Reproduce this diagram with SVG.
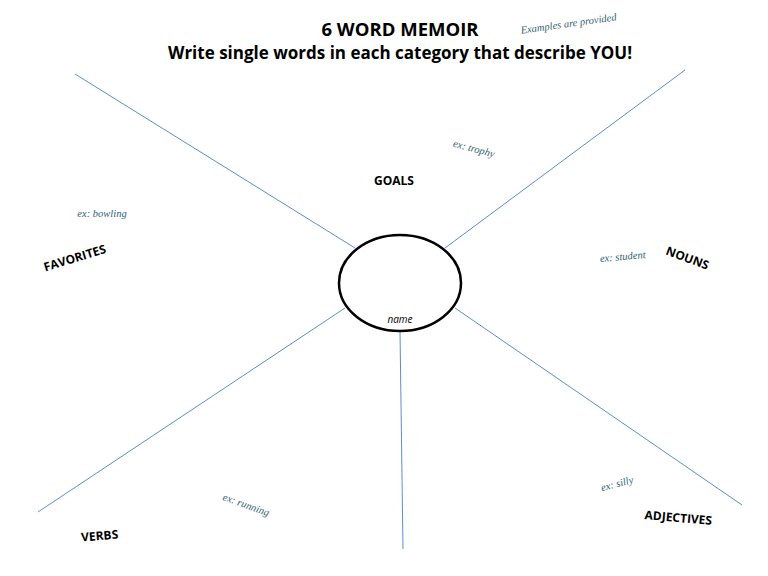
<svg xmlns="http://www.w3.org/2000/svg" width="768" height="576" viewBox="0 0 768 576">
<style>
.title{font-family:"Open Sans","Liberation Sans",sans-serif;font-weight:bold;fill:#000;text-anchor:middle}
.cat{font-family:"Open Sans","Liberation Sans",sans-serif;font-weight:bold;font-size:12px;fill:#000;text-anchor:middle}
.ex{font-family:"Liberation Serif",serif;font-style:italic;font-size:10.5px;fill:#2f6173;text-anchor:middle}
.ln{stroke:#5b8ec8;stroke-width:1;fill:none}
</style>
<rect width="768" height="576" fill="#fff"/>
<g id="connectors">
<line class="ln" x1="75" y1="74" x2="355" y2="248"/>
<line class="ln" x1="685" y1="70" x2="445" y2="248"/>
<line class="ln" x1="38" y1="512" x2="345" y2="308"/>
<line class="ln" x1="742" y1="505" x2="455" y2="308"/>
<line class="ln" x1="400" y1="331" x2="403" y2="549"/>
</g>
<g id="header">
<text class="title" x="400" y="36" font-size="18.5">6 WORD MEMOIR</text>
<text class="title" x="400" y="59" font-size="17">Write single words in each category that describe YOU!</text>
<text class="ex" x="569" y="27" transform="rotate(-8 569 27)">Examples are provided</text>
</g>
<g id="center">
<ellipse cx="400" cy="283" rx="61" ry="48" fill="#fff" stroke="#000" stroke-width="2.5"/>
<text x="400" y="323" font-family="Open Sans, Liberation Sans, sans-serif" font-style="italic" font-size="10" text-anchor="middle">name</text>
</g>
<g id="goals">
<text class="cat" x="394" y="185">GOALS</text>
<text class="ex" x="473" y="152" transform="rotate(15 473 152)">ex: trophy</text>
</g>
<g id="favorites">
<text class="cat" x="76" y="262" transform="rotate(-17 76 262)">FAVORITES</text>
<text class="ex" x="102" y="217">ex: bowling</text>
</g>
<g id="nouns">
<text class="cat" x="686" y="262" transform="rotate(20 686 262)">NOUNS</text>
<text class="ex" x="623" y="260" transform="rotate(-5 623 260)">ex: student</text>
</g>
<g id="adjectives">
<text class="cat" x="678" y="522" transform="rotate(5 678 522)">ADJECTIVES</text>
<text class="ex" x="618" y="487" transform="rotate(-15 618 487)">ex: silly</text>
</g>
<g id="verbs">
<text class="cat" x="100" y="540" transform="rotate(-5 100 540)">VERBS</text>
<text class="ex" x="245" y="508" transform="rotate(20 245 508)">ex: running</text>
</g>
</svg>
